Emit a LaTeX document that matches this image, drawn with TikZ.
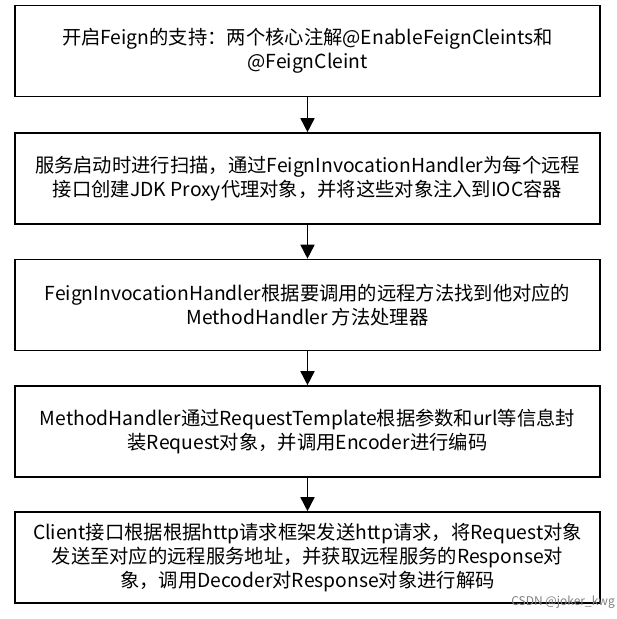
\documentclass[tikz,border=0pt]{standalone}
\usepackage{fontspec}
\setmainfont{Noto Sans CJK SC}
\usetikzlibrary{arrows.meta}
\begin{document}
\begin{tikzpicture}[x=1pt,y=-1pt,
  box/.style={draw=black,line width=1.6pt,fill=white,minimum width=585pt,minimum height=91pt,align=center,font=\fontsize{19.3}{24}\selectfont,inner sep=0pt},
  arr/.style={line width=1.6pt,-{Triangle[length=14pt,width=14pt]}}]
\useasboundingbox (0,0) rectangle (617,619);
\node[box] (b1) at (307.5,51) {开启Feign的支持：两个核心注解@EnableFeignCleints和\\@FeignCleint};
\node[box] (b2) at (307.5,178.5) {服务启动时进行扫描，通过FeignInvocationHandler为每个远程\\接口创建JDK Proxy代理对象，并将这些对象注入到IOC容器};
\node[box] (b3) at (307.5,305) {FeignInvocationHandler根据要调用的远程方法找到他对应的\\MethodHandler 方法处理器};
\node[box] (b4) at (307.5,431.5) {MethodHandler通过RequestTemplate根据参数和url等信息封\\装Request对象，并调用Encoder进行编码};
\node[box] (b5) at (307.5,557.5) {Client接口根据根据http请求框架发送http请求，将Request对象\\发送至对应的远程服务地址，并获取远程服务的Response对\\象，调用Decoder对Response对象进行解码};
\draw[arr] (b1.south) -- (b2.north);
\draw[arr] (b2.south) -- (b3.north);
\draw[arr] (b3.south) -- (b4.north);
\draw[arr] (b4.south) -- (b5.north);
\node[anchor=south east,text=gray,font=\fontsize{12}{14}\selectfont,inner sep=2pt] (wm) at (617,611) {CSDN @joker\_kwg};
\end{tikzpicture}
\end{document}
